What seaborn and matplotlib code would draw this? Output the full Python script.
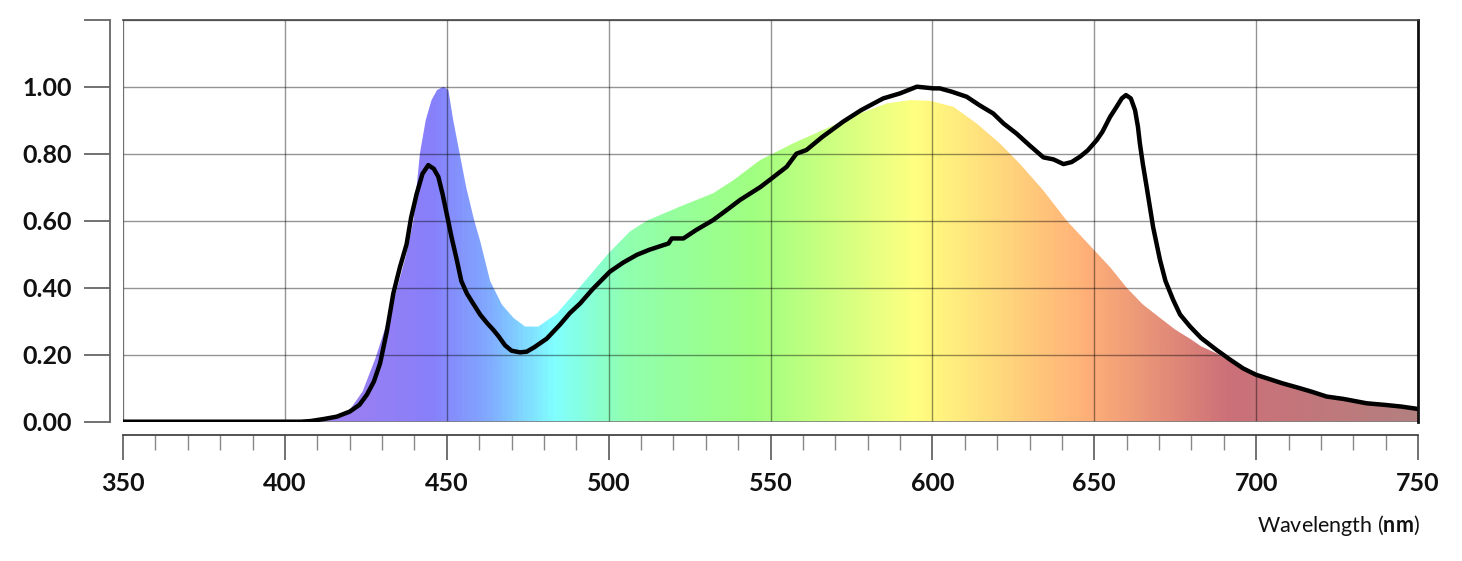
import numpy as np
import pandas as pd
import matplotlib
matplotlib.use("Agg")
import matplotlib.pyplot as plt
import seaborn as sns
from matplotlib.colors import LinearSegmentedColormap
from matplotlib.patches import PathPatch
from matplotlib.ticker import MultipleLocator, FixedLocator, FuncFormatter

# ---------------- data ----------------
fill_wl = [350, 400, 405, 410, 415, 420, 424, 428, 431, 435, 437.5, 439.7, 441.7, 443.5, 445.3, 447,
           449, 450.5, 452, 454, 456, 458.5, 460.3, 463.4, 467, 470.6, 474.2, 478.3, 484,
           491.2, 500, 506.6, 511.8, 522, 532.3, 538.4, 546.8, 557, 567.4, 577.6, 585.9, 593,
           599.3, 606.5, 613.7, 620.9, 627, 634.3, 641.5, 649.7, 655, 660, 665, 670.3, 675,
           680, 683, 687.8, 692.9, 700.1, 706, 713.5, 723.8, 734.1, 742, 750]
fill_val = [0, 0, 0, 0.003, 0.012, 0.035, 0.09, 0.19, 0.28, 0.41, 0.50, 0.60, 0.80, 0.90, 0.96, 0.99,
            1.0, 0.99, 0.90, 0.80, 0.70, 0.60, 0.54, 0.42, 0.35, 0.31, 0.284, 0.284, 0.323,
            0.403, 0.503, 0.568, 0.600, 0.642, 0.682, 0.72, 0.781, 0.831, 0.876, 0.92, 0.95, 0.96,
            0.958, 0.94, 0.89, 0.83, 0.77, 0.69, 0.60, 0.515, 0.46, 0.40, 0.35, 0.31, 0.275,
            0.245, 0.225, 0.204, 0.174, 0.144, 0.12, 0.10, 0.075, 0.055, 0.045, 0.037]

line_wl = [350, 405, 408, 412, 416, 420, 423, 425.3, 427.5, 429.4, 431.5, 433.5, 435.5, 437.6,
           439, 440.7, 442.5, 444.3, 446, 447.4, 448.7, 450, 451.5, 453.1, 454.5, 456.2, 458,
           460.3, 462.4, 464.4, 466, 468, 470, 472.6, 474.7, 477, 480.9, 485, 488, 491.2, 495,
           500.4, 504.5, 508.7, 512.5, 516.9, 518.5, 519.5, 523.1, 527, 532.3, 536.5, 540.6,
           546.8, 549.8, 555, 558, 561.1, 566, 572.5, 578, 584.8, 590, 595.2, 600.3, 602.3, 606,
           610.6, 614.5, 618.8, 622, 626, 630, 634.3, 637.4, 640.5, 643, 645.6, 648, 650.8, 652.5,
           654.9, 656.9, 658.5, 659.8, 661.3, 662.6, 663.5, 664.1, 665, 666.2, 668.2, 670.3, 672,
           674.4, 676.5, 679.6, 683, 687.8, 692, 696, 700, 703.2, 708, 713.5, 717, 721.8, 727,
           734.1, 740, 745, 750]
line_val = [0, 0, 0.002, 0.008, 0.015, 0.03, 0.05, 0.08, 0.12, 0.174, 0.27, 0.383, 0.46, 0.53,
            0.61, 0.68, 0.74, 0.766, 0.755, 0.731, 0.68, 0.62, 0.55, 0.483, 0.42, 0.383, 0.355,
            0.32, 0.295, 0.274, 0.255, 0.228, 0.212, 0.207, 0.209, 0.222, 0.248, 0.29, 0.324, 0.353, 0.395,
            0.448, 0.475, 0.498, 0.513, 0.527, 0.532, 0.547, 0.547, 0.572, 0.602, 0.632, 0.662,
            0.70, 0.722, 0.761, 0.80, 0.811, 0.85, 0.896, 0.93, 0.965, 0.98, 1.0, 0.995, 0.995, 0.985,
            0.97, 0.945, 0.92, 0.89, 0.86, 0.825, 0.789, 0.783, 0.769, 0.775, 0.791, 0.81, 0.841, 0.865,
            0.91, 0.94, 0.965, 0.975, 0.965, 0.93, 0.88, 0.83, 0.77, 0.70, 0.58, 0.483, 0.42,
            0.363, 0.32, 0.284, 0.25, 0.214, 0.185, 0.159, 0.14, 0.13, 0.115, 0.10, 0.09, 0.075, 0.068,
            0.055, 0.05, 0.045, 0.038]

# spectral gradient colour stops (wavelength, colour)
grad_wl = [350, 420, 445, 462, 483, 505, 545, 595, 648, 692, 750]
grad_col = ["#a088ee", "#9a80f2", "#887ffb", "#80a8ff", "#80ffff", "#90ffb0",
            "#a0ff80", "#ffff80", "#ffb078", "#cc7078", "#b48080"]

y_ticks = [0.0, 0.2, 0.4, 0.6, 0.8, 1.0, 1.2]
x_ticks = [350, 400, 450, 500, 550, 600, 650, 700, 750]

# ---------------- figure ----------------
sns.set_theme(style="white")
plt.rcParams['font.family'] = ['Lato', 'DejaVu Sans']
plt.rcParams['font.weight'] = 'bold'
plt.rcParams['mathtext.fontset'] = 'custom'
plt.rcParams['mathtext.rm'] = 'Lato'
plt.rcParams['mathtext.bf'] = 'Lato:bold'

fig = plt.figure(figsize=(14.62, 5.61), dpi=100)
fig.patch.set_facecolor("white")
ax = fig.add_axes([123 / 1462, 1 - 421.7 / 561, (1418 - 123) / 1462, (421.7 - 19.7) / 561])
ax.set_facecolor("white")

# coloured fill: polygon from data, gradient clipped to it
poly = ax.fill_between(fill_wl, fill_val, 0, facecolor="none", edgecolor="none", lw=0)
positions = [(w - grad_wl[0]) / (grad_wl[-1] - grad_wl[0]) for w in grad_wl]
cmap = LinearSegmentedColormap.from_list("spec", list(zip(positions, grad_col)))
gx = np.linspace(350, 750, 1601)
img = ax.imshow(gx[None, :], extent=[350, 750, 0, 1.2], aspect="auto", cmap=cmap,
                vmin=350, vmax=750, origin="lower", interpolation="bilinear", zorder=1)
clip = PathPatch(poly.get_paths()[0], transform=ax.transData, facecolor="none", edgecolor="none")
ax.add_patch(clip)
img.set_clip_path(clip)

# black line
df_line = pd.DataFrame({"wl": line_wl, "val": line_val})
sns.lineplot(data=df_line, x="wl", y="val", ax=ax, color="black", lw=3.2, zorder=5,
             solid_joinstyle="round", solid_capstyle="round")

ax.set_xlim(350, 750)
ax.set_ylim(0, 1.2)

# grid over the fill
ax.set_axisbelow(False)
ax.grid(True, which="major", color="black", alpha=0.42, lw=1.0, zorder=3)
ax.axvline(350, color="#6a6a6a", lw=1.3, zorder=4)
ax.axhline(0, color="#777777", lw=1.8, zorder=4)

# ticks
ax.xaxis.set_major_locator(FixedLocator(x_ticks))
ax.xaxis.set_minor_locator(MultipleLocator(10))
ax.yaxis.set_major_locator(FixedLocator(y_ticks))
ax.yaxis.set_major_formatter(FuncFormatter(lambda v, p: "" if v > 1.1 else f"{v:.2f}"))
ax.xaxis.set_major_formatter(FuncFormatter(lambda v, p: f"{v:.0f}"))

ax.tick_params(axis="y", which="major", left=True, length=18.7, width=1.3, color="#666666",
               pad=8.6, labelsize=18, labelcolor="#111111")
ax.tick_params(axis="x", which="major", bottom=True, length=18, width=1.3, color="#666666",
               pad=8.6, labelsize=18, labelcolor="#111111")
ax.tick_params(axis="x", which="minor", bottom=True, length=10.8, width=1.0, color="#888888")

# spines
ax.spines["left"].set_position(("outward", 9.4))
ax.spines["bottom"].set_position(("outward", 9.6))
ax.spines["left"].set_color("#666666")
ax.spines["left"].set_linewidth(1.3)
ax.spines["bottom"].set_color("#444444")
ax.spines["bottom"].set_linewidth(1.3)
ax.spines["top"].set_color("#444444")
ax.spines["top"].set_linewidth(1.2)
ax.spines["right"].set_color("#111111")
ax.spines["right"].set_linewidth(2.0)
for s in ax.spines.values():
    s.set_zorder(6)

ax.set_xlabel("")
ax.set_ylabel("")

fig.text(1420 / 1462, 1 - 525 / 561, r"Wavelength ($\mathbf{nm}$)", ha="right", va="center",
         fontsize=15.5, fontweight="normal", color="#111111")

fig.savefig("out.png", dpi=100, facecolor="white")
